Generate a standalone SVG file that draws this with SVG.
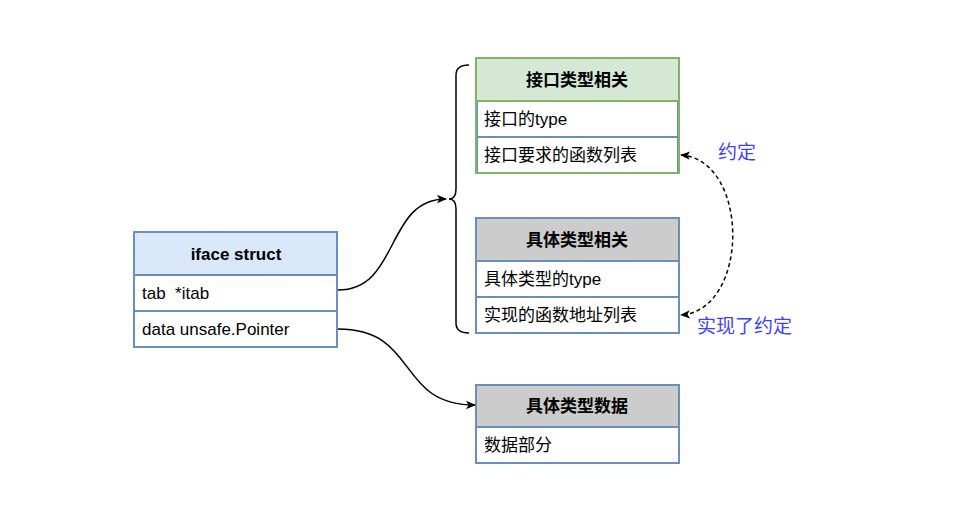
<svg xmlns="http://www.w3.org/2000/svg" width="969" height="522" viewBox="0 0 969 522">
<style>
  .t{font-family:"Liberation Sans","Noto Sans CJK SC",sans-serif;font-size:17px;fill:#000}
  .h{font-family:"Liberation Sans","Noto Sans CJK SC",sans-serif;font-size:17px;font-weight:bold;fill:#000;text-anchor:middle}
  .lbl{font-family:"Liberation Sans","Noto Sans CJK SC",sans-serif;font-size:19px;fill:#3f3fff}
  .blue{stroke:#6c8ebf;stroke-width:2}
  .green{stroke:#82b366;stroke-width:2}
  .row{fill:#fff;stroke:#6c8ebf;stroke-width:2}
  .conn{fill:none;stroke:#000;stroke-width:1.5}
</style>
<defs>
  <marker id="arr" viewBox="0 0 10 10" refX="9" refY="5" markerWidth="10" markerHeight="10" markerUnits="userSpaceOnUse" orient="auto-start-reverse">
    <path d="M0,0.8 L10,5 L0,9.2 L2.5,5 z" fill="#000"/>
  </marker>
</defs>
<rect width="969" height="522" fill="#fff"/>

<g id="iface">
  <rect x="134" y="232" width="203" height="43" fill="#dae8fc" class="blue"/>
  <rect x="134" y="275" width="203" height="36" class="row"/>
  <rect x="134" y="311" width="203" height="36" class="row"/>
  <text x="236" y="260" class="h">iface struct</text>
  <text x="142" y="299" class="t" xml:space="preserve">tab  *itab</text>
  <text x="142" y="335" class="t">data unsafe.Pointer</text>
</g>

<g id="itab-iface">
  <rect x="476" y="58" width="203" height="43" fill="#d5e8d4" stroke="none"/>
  <rect x="477" y="101" width="201" height="36" class="row"/>
  <rect x="477" y="137" width="201" height="36" class="row"/>
  <rect x="476" y="58" width="203" height="115" fill="none" class="green"/>
  <line x1="476" y1="101" x2="679" y2="101" class="green"/>
  <text x="577" y="86" class="h">接口类型相关</text>
  <text x="484" y="125" class="t">接口的type</text>
  <text x="484" y="161" class="t">接口要求的函数列表</text>
</g>

<g id="itab-concrete">
  <rect x="476" y="218" width="203" height="43" fill="#cccccc" class="blue"/>
  <rect x="476" y="261" width="203" height="36" class="row"/>
  <rect x="476" y="297" width="203" height="36" class="row"/>
  <text x="577" y="246" class="h">具体类型相关</text>
  <text x="484" y="285" class="t">具体类型的type</text>
  <text x="484" y="321" class="t">实现的函数地址列表</text>
</g>

<g id="data">
  <rect x="476" y="385" width="203" height="42" fill="#cccccc" class="blue"/>
  <rect x="476" y="427" width="203" height="36" class="row"/>
  <text x="577" y="412" class="h">具体类型数据</text>
  <text x="484" y="451" class="t">数据部分</text>
</g>

<g id="brace">
  <path d="M 469 65 Q 456 65 456 75 L 456 189 Q 456 199 449 199 Q 456 199 456 209 L 456 323 Q 456 333 469 333" class="conn" stroke="#333"/>
</g>

<g id="connectors">
  <path d="M 338 290 C 400 290 385 199 446 199" class="conn" marker-end="url(#arr)"/>
  <path d="M 338 329 C 420 329 395 405 475 405" class="conn" marker-end="url(#arr)"/>
  <path d="M 681 155 C 750 160 750 310 681 315" class="conn" stroke-dasharray="4 3" marker-start="url(#arr)" marker-end="url(#arr)"/>
  <text x="718" y="159" class="lbl">约定</text>
  <text x="697" y="333" class="lbl">实现了约定</text>
</g>
</svg>
